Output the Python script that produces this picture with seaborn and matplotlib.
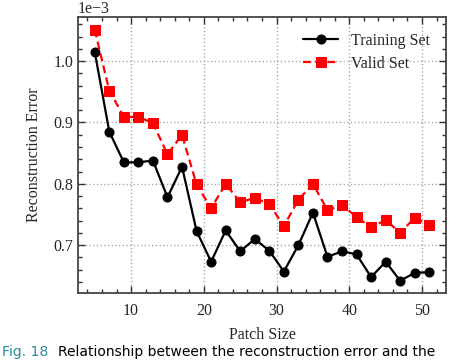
import numpy as np
import pandas as pd
import matplotlib
matplotlib.use("Agg")
import matplotlib.pyplot as plt
import seaborn as sns
from matplotlib.ticker import MultipleLocator

# ------------------------------------------------------------
# Données
# ------------------------------------------------------------
patch_size = list(range(5, 53, 2))
train_err = [1.015, 0.885, 0.835, 0.835, 0.838, 0.778, 0.828, 0.723,
             0.673, 0.724, 0.690, 0.710, 0.691, 0.657, 0.700, 0.753,
             0.681, 0.690, 0.685, 0.648, 0.673, 0.642, 0.655, 0.656]
valid_err = [1.051, 0.952, 0.909, 0.909, 0.899, 0.848, 0.880, 0.799,
             0.760, 0.800, 0.770, 0.777, 0.767, 0.731, 0.774, 0.800,
             0.757, 0.765, 0.746, 0.729, 0.741, 0.720, 0.745, 0.733]
train_err = [v * 1e-3 for v in train_err]
valid_err = [v * 1e-3 for v in valid_err]

df = pd.DataFrame({"Patch Size": patch_size,
                   "Training Set": train_err,
                   "Valid Set": valid_err})

# ------------------------------------------------------------
# Style
# ------------------------------------------------------------
sns.set_style("ticks")
plt.rcParams["font.family"] = ["Liberation Serif", "DejaVu Serif"]
plt.rcParams["axes.unicode_minus"] = True

fig = plt.figure(figsize=(4.74, 3.6), dpi=100)
ax = fig.add_axes([0.1646, 0.186, 0.7764, 0.767])

sns.lineplot(data=df, x="Patch Size", y="Training Set", ax=ax, color="black",
             marker="o", markersize=6.5, markeredgecolor="black", linewidth=1.6,
             label="Training Set")
sns.lineplot(data=df, x="Patch Size", y="Valid Set", ax=ax, color="#ff0000",
             marker="s", markersize=6.5, markeredgecolor="#ff0000", linewidth=1.6,
             linestyle=(0, (3.5, 2)), label="Valid Set")

ax.set_xlim(2.7, 53.3)
ax.set_ylim(0.622e-3, 1.072e-3)
ax.xaxis.set_major_locator(MultipleLocator(10))
ax.xaxis.set_minor_locator(MultipleLocator(2))
ax.yaxis.set_major_locator(MultipleLocator(0.1e-3))
ax.yaxis.set_minor_locator(MultipleLocator(0.02e-3))
ax.ticklabel_format(axis="y", style="sci", scilimits=(-3, -3))

ax.grid(True, which="major", color="#aaaaaa", linestyle=":", linewidth=1.0)
ax.tick_params(which="both", direction="in", top=True, right=True,
               labelsize=11.5, color="#333333")
ax.tick_params(axis="x", which="major", pad=7)
ax.tick_params(which="major", length=5, width=1.0)
ax.tick_params(which="minor", length=3, width=1.0)
for s in ax.spines.values():
    s.set_linewidth(1.3)
    s.set_color("#444444")

ax.yaxis.get_offset_text().set_fontsize(11.5)
ax.set_xlabel("Patch Size", fontsize=11.5, labelpad=6)
ax.set_ylabel("Reconstruction Error", fontsize=11.5, labelpad=8)

ax.legend(loc="upper right", frameon=False, fontsize=11.5,
          handlelength=2.2, borderaxespad=0.6, labelspacing=0.45)

# légende de la figure (en bas)
fig.text(0.004, 0.004, "Fig. 18", color="#2a8a9a", fontsize=10,
         va="bottom", family=["DejaVu Sans"])
fig.text(0.122, 0.004, "Relationship between the reconstruction error and the",
         color="black", fontsize=10, va="bottom", family=["DejaVu Sans"])

fig.savefig("out.png", dpi=100)
